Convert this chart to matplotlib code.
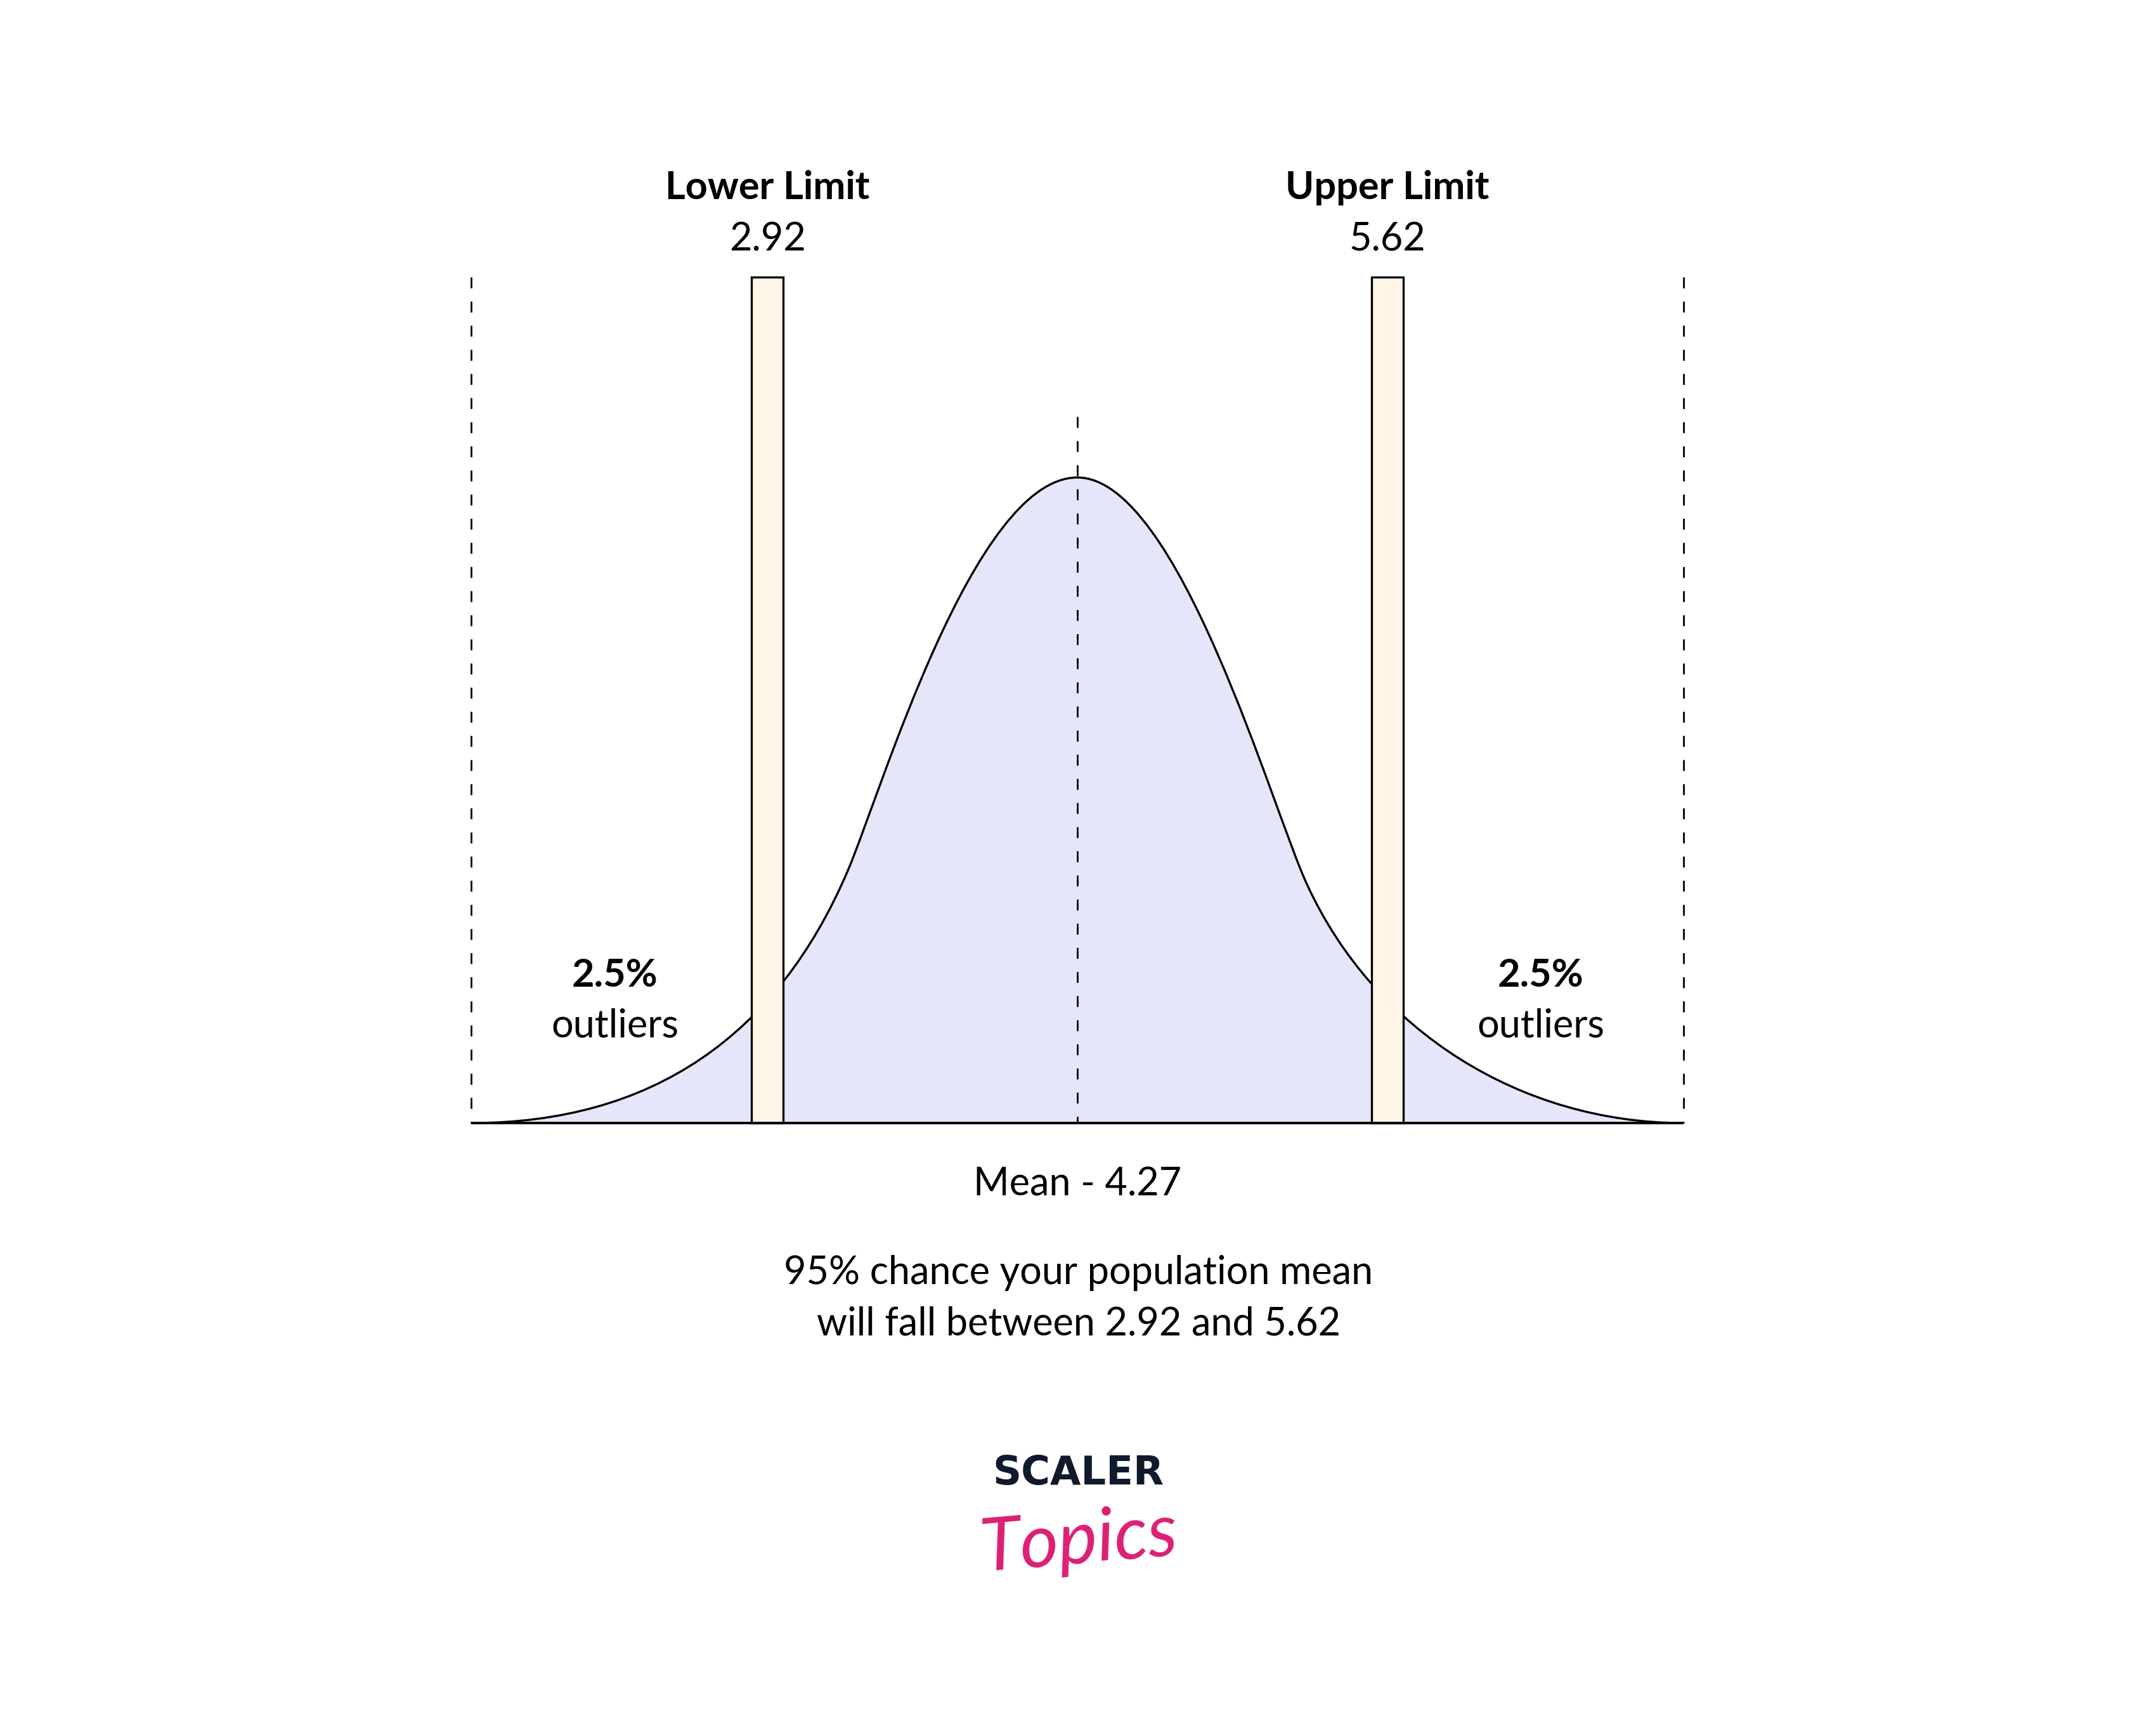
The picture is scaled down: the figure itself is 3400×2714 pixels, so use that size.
import matplotlib
matplotlib.use("Agg")
import numpy as np
import matplotlib.pyplot as plt
from matplotlib import transforms
from matplotlib.path import Path
from matplotlib.patches import PathPatch

# ---------------- data ----------------
mean_value = 4.27
lower_limit = 2.92
upper_limit = 5.62
range_left = 1.63
range_right = 6.91
outlier_pct = "2.5%"

# points (x in data units, height relative to the peak)
curve_x = [1.63, 1.86, 2.04, 2.21, 2.39, 2.57, 2.75, 2.86, 2.99, 3.14,
           3.27, 3.37, 3.49, 3.59, 3.72, 3.84, 3.95, 4.11, 4.27,
           4.44, 4.57, 4.69, 4.79, 4.92, 5.06, 5.18, 5.27,
           5.37, 5.56, 5.70, 5.79, 5.96, 6.09, 6.21, 6.33, 6.46, 6.58, 6.70, 6.91]
curve_y = [0.000, 0.005, 0.015, 0.029, 0.052, 0.082, 0.132, 0.170, 0.222, 0.294,
           0.391, 0.490, 0.598, 0.685, 0.790, 0.868, 0.925, 0.982, 1.000,
           0.983, 0.928, 0.866, 0.790, 0.687, 0.570, 0.460, 0.370,
           0.301, 0.212, 0.163, 0.136, 0.095, 0.071, 0.048, 0.031, 0.018, 0.009, 0.002, 0.000]
# indices where the drawn curve has a visible corner (tail meets flank), and the peak
corner_idx = [10, 26]
peak_idx = 18

bar_top = 1.31
mean_line_top = 1.094

# ---------------- figure ----------------
W, H, DPI = 3400, 2714, 100
fig = plt.figure(figsize=(W / DPI, H / DPI), dpi=DPI, facecolor="white")

px_mean, px_per_unit = 1699.0, 362.0
py_base, py_per_unit = 1771.0, 1018.0
ax = fig.add_axes([0, 0, 1, 1])
ax.set_xlim(mean_value - px_mean / px_per_unit, mean_value + (W - px_mean) / px_per_unit)
ax.set_ylim(-(H - py_base) / py_per_unit, py_base / py_per_unit)
ax.axis("off")

LAV = "#E6E6FA"
CREAM = "#FFF5E6"
INK = "black"


def bern(t):
    return (1 - t) ** 3, 3 * (1 - t) ** 2 * t, 3 * (1 - t) * t ** 2, t ** 3


def fit_cubic(qx, qy, fix_y1=None, fix_y2=None, iters=40):
    """Least-squares cubic Bezier (fixed end points) for a run of read points."""
    qx = np.asarray(qx, float)
    qy = np.asarray(qy, float)
    sxp, syp = px_per_unit, py_per_unit
    d = np.hypot(np.diff(qx) * sxp, np.diff(qy) * syp)
    t = np.concatenate([[0], np.cumsum(d)]) / d.sum()
    p0 = np.array([qx[0], qy[0]])
    p3 = np.array([qx[-1], qy[-1]])
    grid = np.linspace(0, 1, 2001)
    for _ in range(iters):
        b0, b1, b2, b3 = bern(t)
        rx = qx - b0 * p0[0] - b3 * p3[0]
        cx = np.linalg.lstsq(np.c_[b1, b2], rx, rcond=None)[0]
        ry = qy - b0 * p0[1] - b3 * p3[1]
        if fix_y1 is not None and fix_y2 is not None:
            cy = (fix_y1, fix_y2)
        elif fix_y1 is not None:
            cy = (fix_y1, np.linalg.lstsq(b2[:, None], ry - b1 * fix_y1, rcond=None)[0][0])
        elif fix_y2 is not None:
            cy = (np.linalg.lstsq(b1[:, None], ry - b2 * fix_y2, rcond=None)[0][0], fix_y2)
        else:
            cy = np.linalg.lstsq(np.c_[b1, b2], ry, rcond=None)[0]
        c1 = np.array([cx[0], cy[0]])
        c2 = np.array([cx[1], cy[1]])
        g0, g1, g2, g3 = bern(grid)
        gx = g0 * p0[0] + g1 * c1[0] + g2 * c2[0] + g3 * p3[0]
        gy = g0 * p0[1] + g1 * c1[1] + g2 * c2[1] + g3 * p3[1]
        dist = ((gx[None, :] - qx[:, None]) * sxp) ** 2 + ((gy[None, :] - qy[:, None]) * syp) ** 2
        t = grid[np.argmin(dist, axis=1)]
        t[0], t[-1] = 0.0, 1.0
    return [tuple(c1), tuple(c2), tuple(p3)]


n = len(curve_x)
cuts = [0, corner_idx[0], peak_idx, corner_idx[1], n - 1]
verts = [(curve_x[0], curve_y[0])]
codes = [Path.MOVETO]
for a, b in zip(cuts[:-1], cuts[1:]):
    sx = curve_x[a:b + 1]
    sy = curve_y[a:b + 1]
    f1 = sy[0] if a in (0, peak_idx) else None
    f2 = sy[-1] if b in (n - 1, peak_idx) else None
    verts += fit_cubic(sx, sy, fix_y1=f1, fix_y2=f2)
    codes += [Path.CURVE4] * 3

fill_verts = verts + [(curve_x[-1], 0), (curve_x[0], 0), (curve_x[0], 0)]
fill_codes = codes + [Path.LINETO, Path.LINETO, Path.CLOSEPOLY]
ax.add_patch(PathPatch(Path(fill_verts, fill_codes), facecolor=LAV, edgecolor="none",
                       lw=0, zorder=1))
ax.add_patch(PathPatch(Path(verts, codes), facecolor="none", edgecolor=INK, lw=2.4,
                       zorder=2, joinstyle="round"))

dash = (0, (6.2, 7.5))
for xv in (range_left, range_right):
    ax.plot([xv, xv], [bar_top, 0], color=INK, lw=2.0, linestyle=dash, zorder=2)
ax.plot([mean_value, mean_value], [mean_line_top, 0], color=INK, lw=2.0,
        linestyle=dash, zorder=2)

ax.bar([lower_limit, upper_limit], [bar_top, bar_top], width=0.138, bottom=0,
       color=CREAM, edgecolor=INK, linewidth=2.4, zorder=3)

ax.plot([range_left, range_right], [0, 0], color=INK, lw=2.8, zorder=4,
        solid_capstyle="butt")

# ---------------- text ----------------
FONT = ["Lato", "DejaVu Sans"]
FS = 44


def fy(py):
    return 1 - py / H


tr = transforms.blended_transform_factory(ax.transData, fig.transFigure)

for xv, name in ((lower_limit, "Lower Limit"), (upper_limit, "Upper Limit")):
    ax.text(xv, fy(314), name, transform=tr, ha="center", va="baseline",
            fontsize=FS, fontweight="bold", family=FONT)
    ax.text(xv, fy(395), f"{xv:.2f}", transform=tr, ha="center", va="baseline",
            fontsize=FS, family=FONT)

for xpx in (970, 2430):
    fig.text(xpx / W, fy(1556), outlier_pct, ha="center", va="baseline",
             fontsize=FS, fontweight="bold", family=FONT)
    fig.text(xpx / W, fy(1636), "outliers", ha="center", va="baseline",
             fontsize=FS, family=FONT)

ax.text(mean_value, fy(1886), f"Mean - {mean_value:.2f}", transform=tr,
        ha="center", va="baseline", fontsize=FS, family=FONT)
fig.text(1701 / W, fy(2025), "95% chance your population mean", ha="center",
         va="baseline", fontsize=FS, family=FONT)
fig.text(1701 / W, fy(2105), f"will fall between {lower_limit:.2f} and {upper_limit:.2f}",
         ha="center", va="baseline", fontsize=FS, family=FONT)

# logo
fig.text(1701 / W, fy(2341), "SCALER", ha="center", va="baseline", fontsize=45,
         fontweight="bold", family=["DejaVu Sans"], color="#0F1A2C")
fig.text(1701 / W, fy(2478), "Topics", ha="center", va="baseline", fontsize=84,
         fontstyle="italic", family=FONT, color="#DC1F74", rotation=5)

fig.savefig("out.png", dpi=DPI, facecolor="white")
